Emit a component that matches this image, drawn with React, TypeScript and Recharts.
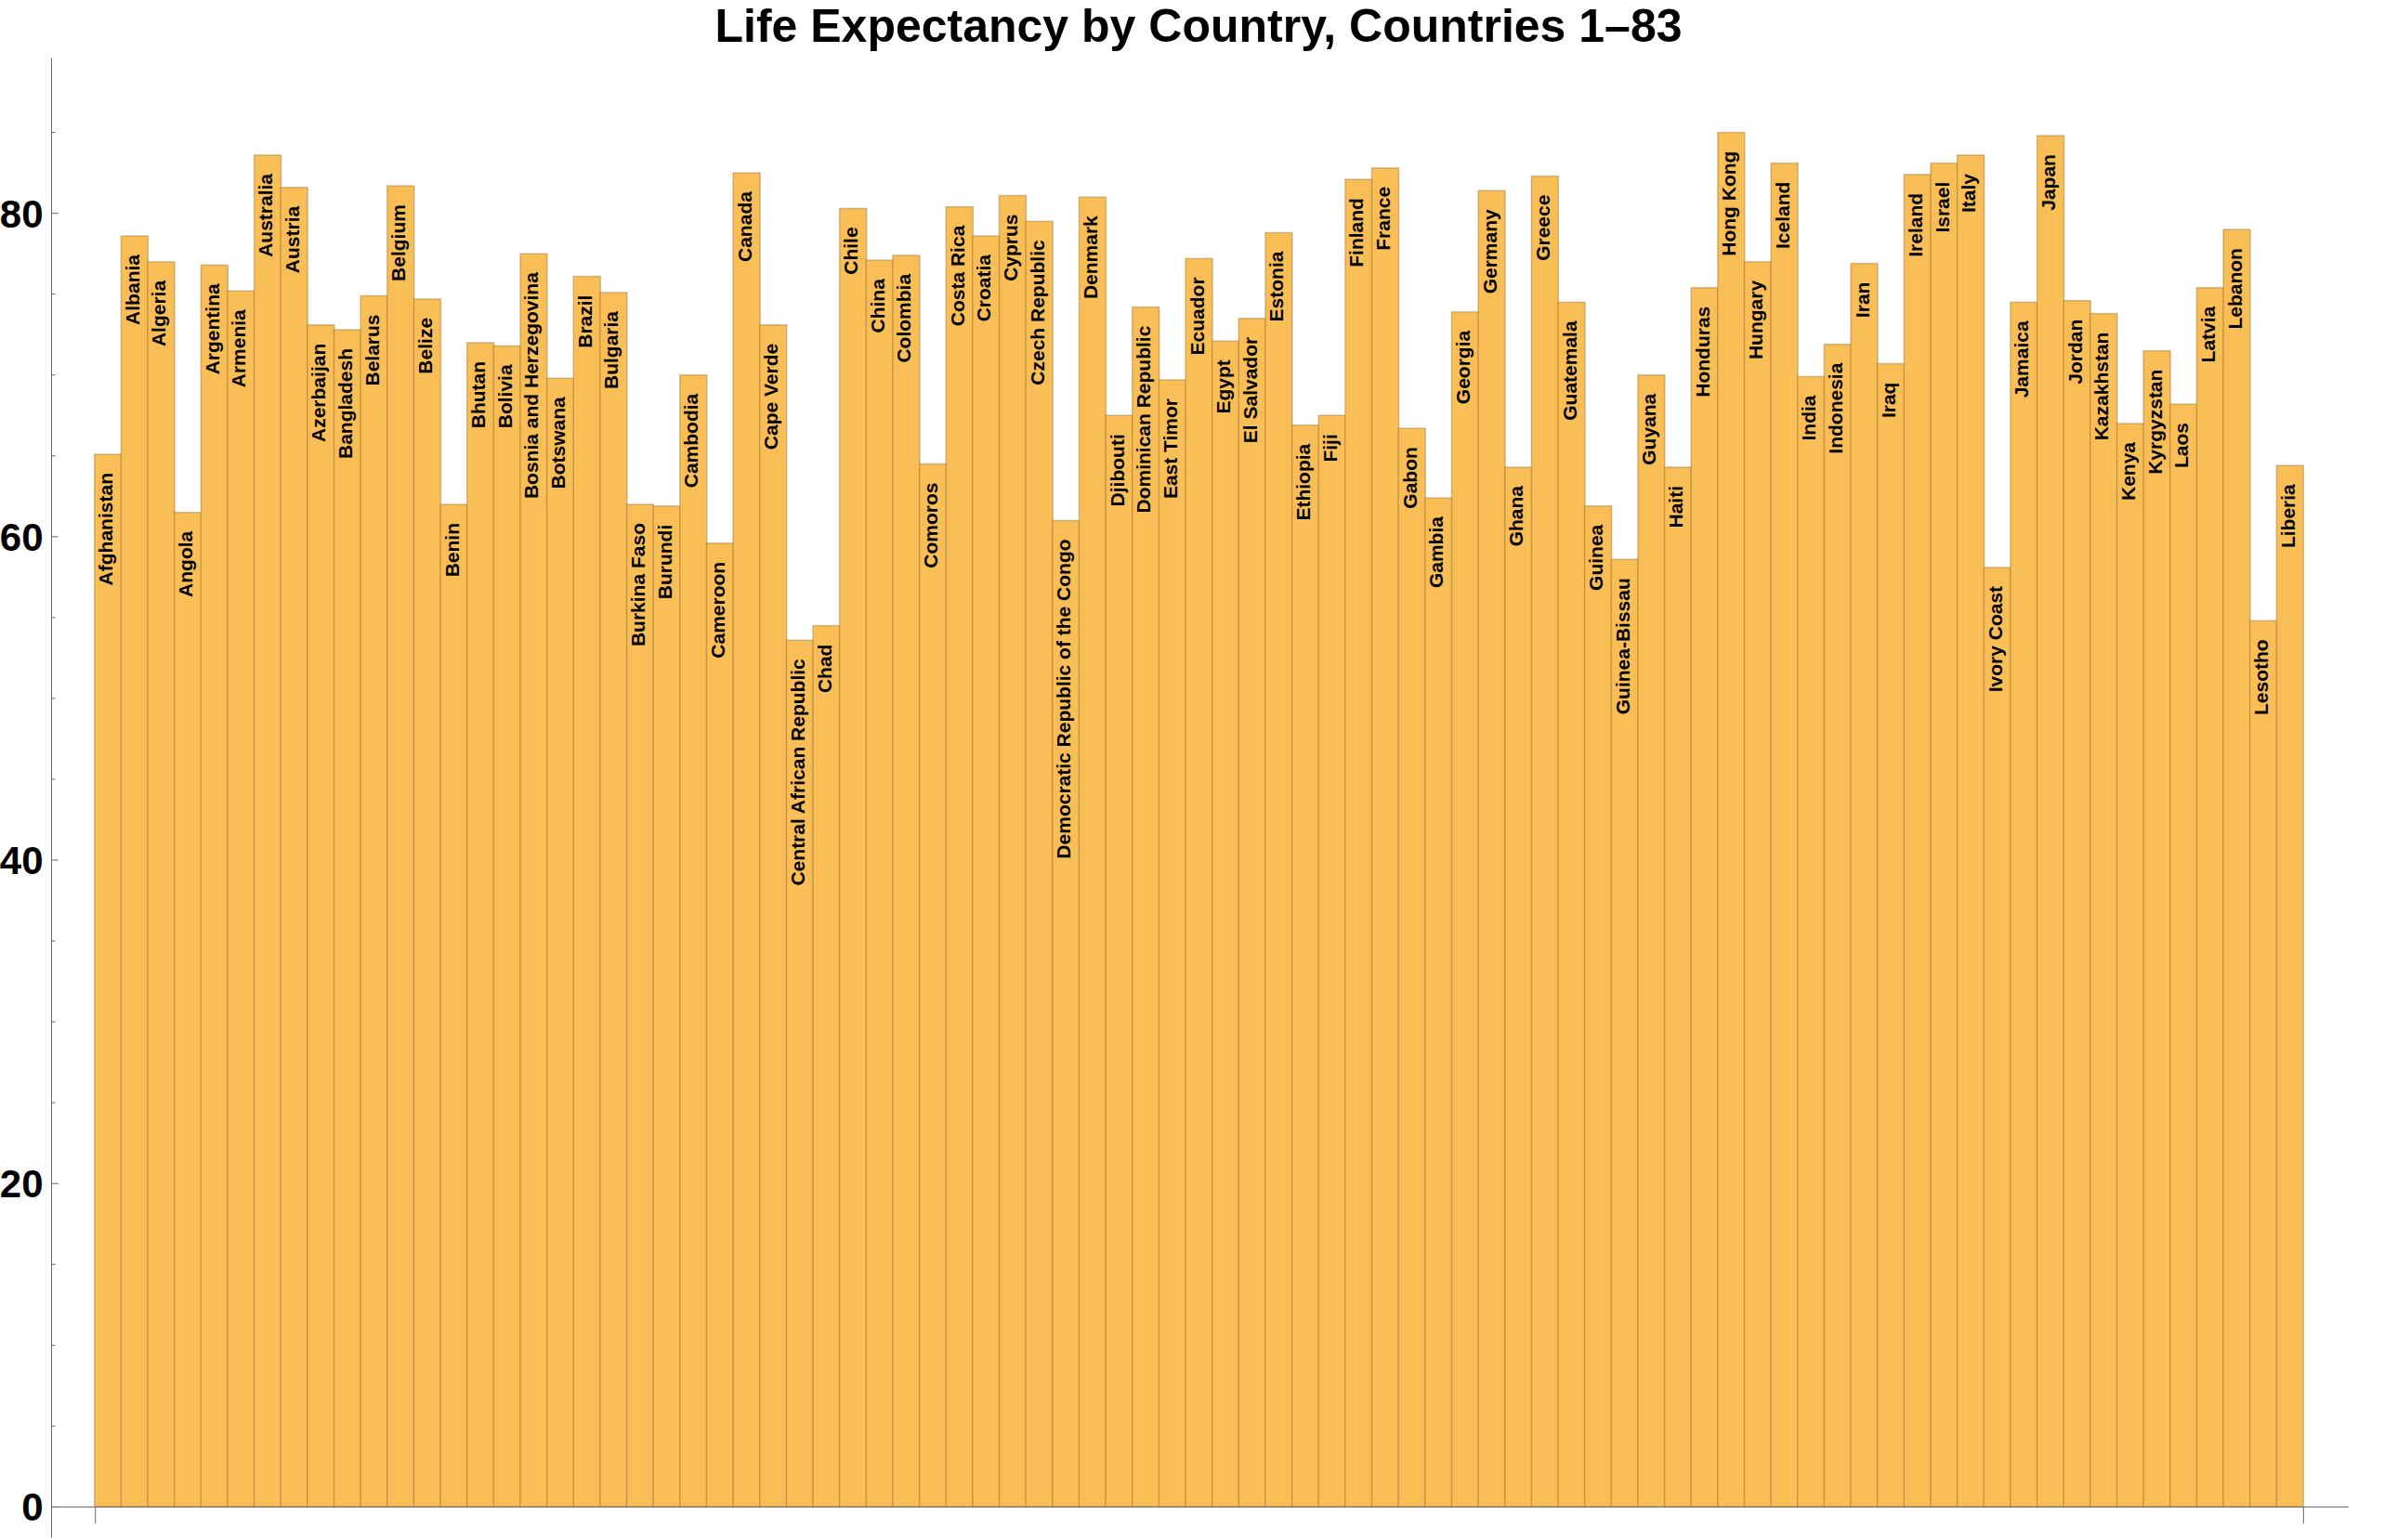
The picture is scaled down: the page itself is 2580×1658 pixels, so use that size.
import React from 'react';
import { BarChart, Bar, XAxis, YAxis, ReferenceLine, LabelList } from 'recharts';

const countries = [
  'Afghanistan', 'Albania', 'Algeria', 'Angola', 'Argentina', 'Armenia', 'Australia', 'Austria',
  'Azerbaijan', 'Bangladesh', 'Belarus', 'Belgium', 'Belize', 'Benin', 'Bhutan', 'Bolivia',
  'Bosnia and Herzegovina', 'Botswana', 'Brazil', 'Bulgaria', 'Burkina Faso', 'Burundi', 'Cambodia',
  'Cameroon', 'Canada', 'Cape Verde', 'Central African Republic', 'Chad', 'Chile', 'China',
  'Colombia', 'Comoros', 'Costa Rica', 'Croatia', 'Cyprus', 'Czech Republic',
  'Democratic Republic of the Congo', 'Denmark', 'Djibouti', 'Dominican Republic', 'East Timor',
  'Ecuador', 'Egypt', 'El Salvador', 'Estonia', 'Ethiopia', 'Fiji', 'Finland', 'France', 'Gabon',
  'Gambia', 'Georgia', 'Germany', 'Ghana', 'Greece', 'Guatemala', 'Guinea', 'Guinea-Bissau',
  'Guyana', 'Haiti', 'Honduras', 'Hong Kong', 'Hungary', 'Iceland', 'India', 'Indonesia', 'Iran',
  'Iraq', 'Ireland', 'Israel', 'Italy', 'Ivory Coast', 'Jamaica', 'Japan', 'Jordan', 'Kazakhstan',
  'Kenya', 'Kyrgyzstan', 'Laos', 'Latvia', 'Lebanon', 'Lesotho', 'Liberia',
];

const lifeExpectancy = [
  65.1, 78.6, 77.0, 61.5, 76.8, 75.2, 83.6, 81.6,
  73.1, 72.8, 74.9, 81.7, 74.7, 62.0, 72.0, 71.8,
  77.5, 69.8, 76.1, 75.1, 62.0, 61.9, 70.0,
  59.6, 82.5, 73.1, 53.6, 54.5, 80.3, 77.1,
  77.4, 64.5, 80.4, 78.6, 81.1, 79.5,
  61.0, 81.0, 67.5, 74.2, 69.7,
  77.2, 72.1, 73.5, 78.8, 66.9, 67.5, 82.1, 82.8, 66.7,
  62.4, 73.9, 81.4, 64.3, 82.3, 74.5, 61.9, 58.6,
  70.0, 64.3, 75.4, 85.0, 77.0, 83.1, 69.9, 71.9, 76.9,
  70.7, 82.4, 83.1, 83.6, 58.1, 74.5, 84.8, 74.6, 73.8,
  67.0, 71.5, 68.2, 75.4, 79.0, 54.8, 64.4,
];

const majorTicks = [0, 20, 40, 60, 80];
const allTicks = [0, 5, 10, 15, 20, 25, 30, 35, 40, 45, 50, 55, 60, 65, 70, 75, 80, 85];

const data = countries.map((country, i) => ({ country, value: lifeExpectancy[i] }));

const FONT = '"Liberation Sans", Arial, Helvetica, sans-serif';
const AXIS = '#666666';

// y ticks point into the plot; only multiples of 20 get a label
const YTick = (props: any) => {
  const { x, y, payload } = props;
  const major = majorTicks.includes(payload.value);
  return (
    <g>
      <line x1={x} x2={x + (major ? 7 : 4)} y1={y} y2={y} stroke={AXIS} strokeWidth={1} />
      {major && (
        <text x={x - 9} y={y} dy={15} textAnchor="end" fontSize={42} fontWeight="bold"
          fontFamily={FONT} fill="#000">
          {payload.value}
        </text>
      )}
    </g>
  );
};

// bar rect plus the two end ticks hanging under the zero line
const BarShape = (props: any) => {
  const { x, y, width, height, index } = props;
  const base = y + height;
  return (
    <g>
      <rect x={x} y={y} width={width} height={height} fill="#F9BE55"
        stroke="#8a6a30" strokeOpacity={0.38} strokeWidth={1.5} />
      {index === 0 && (
        <line x1={x + 1} x2={x + 1} y1={base} y2={base + 18} stroke={AXIS} strokeWidth={1} />
      )}
      {index === data.length - 1 && (
        <line x1={x + width} x2={x + width} y1={base} y2={base + 18} stroke={AXIS} strokeWidth={1} />
      )}
    </g>
  );
};

// country name written upward, ending just under the bar top
const CountryLabel = (props: any) => {
  const { x, y, width, value } = props;
  const cx = x + width / 2;
  const ty = y + 20;
  return (
    <text x={cx} y={ty} dy={5} transform={`rotate(-90, ${cx}, ${ty})`} textAnchor="end"
      fontSize={21} fontWeight="bold" fontFamily={FONT} fill="#000">
      {value}
    </text>
  );
};

export default function App() {
  return (
    <div style={{ position: 'absolute', left: 0, top: 0, width: 2580, height: 1658, background: '#fff' }}>
      <svg width={2580} height={70} style={{ position: 'absolute', left: 0, top: 0 }}>
        <text x={1290} y={45} textAnchor="middle" fontSize={50} fontWeight="bold" fontFamily={FONT} fill="#000">
          Life Expectancy by Country, Countries 1–83
        </text>
      </svg>
      <BarChart
        width={2580}
        height={1658}
        data={data}
        margin={{ top: 62.5, right: 52, bottom: 2.5, left: 0 }}
        barCategoryGap={0}
        barGap={0}
      >
        <XAxis dataKey="country" hide padding={{ left: 46.2, right: 49 }} />
        <YAxis
          type="number"
          domain={[-1.9, 89.6]}
          allowDataOverflow
          ticks={allTicks}
          interval={0}
          tickSize={0}
          tickMargin={0}
          tickLine={false}
          axisLine={{ stroke: AXIS, strokeWidth: 1 }}
          tick={<YTick />}
          width={55.5}
        />
        <Bar dataKey="value" isAnimationActive={false} shape={<BarShape />}>
          <LabelList dataKey="country" content={<CountryLabel />} />
        </Bar>
        <ReferenceLine y={0} stroke={AXIS} strokeWidth={1} />
      </BarChart>
    </div>
  );
}
